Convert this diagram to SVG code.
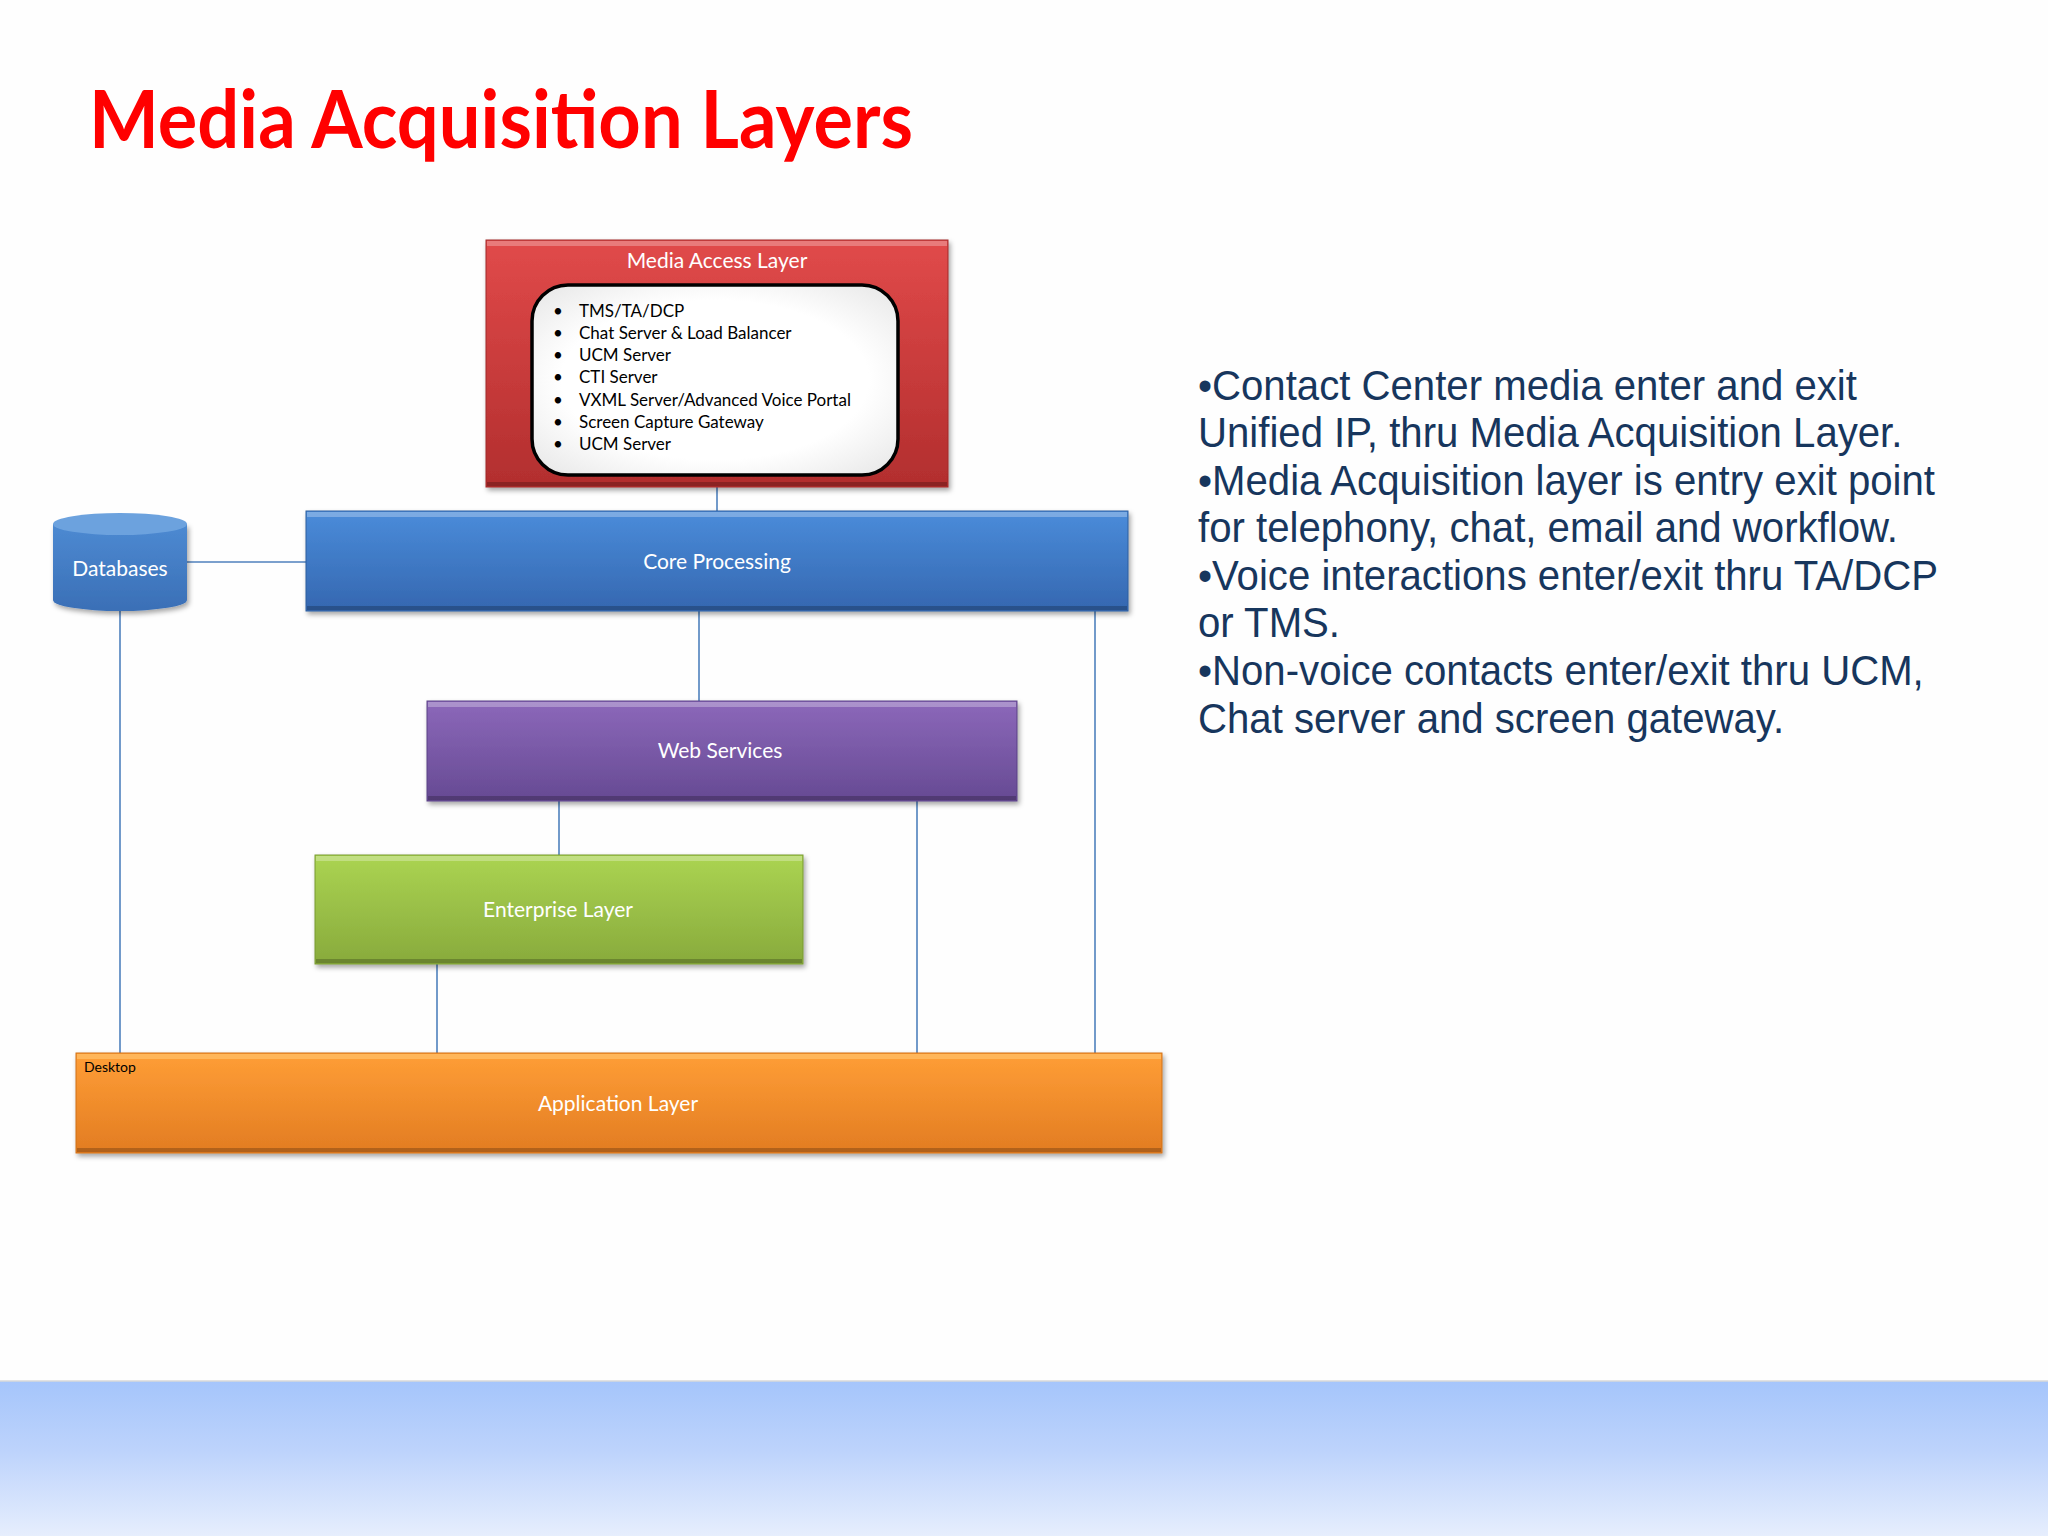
<svg xmlns="http://www.w3.org/2000/svg" width="2048" height="1536" viewBox="0 0 2048 1536">
<defs>
<style>
.lbl{font-family:Lato,"Open Sans","Liberation Sans",sans-serif;font-size:21px;fill:#FFFFFF;text-anchor:middle}
.item{font-family:Lato,"Open Sans","Liberation Sans",sans-serif;font-size:17px;fill:#000000}
.body{font-family:"Liberation Sans",Arial,sans-serif;font-size:42px;fill:#17365D}
.conn{stroke:#4F81BD;stroke-width:1.6;fill:none}
.hi{fill:#FFFFFF;opacity:0.28}
.sh{fill:#000000;opacity:0.22}
</style>
<linearGradient id="gRed" x1="0" y1="0" x2="0" y2="1"><stop offset="0" stop-color="#E14A4A"/><stop offset="1" stop-color="#B22E2E"/></linearGradient>
<linearGradient id="gBlue" x1="0" y1="0" x2="0" y2="1"><stop offset="0" stop-color="#4A8CDA"/><stop offset="1" stop-color="#3567B0"/></linearGradient>
<linearGradient id="gPurple" x1="0" y1="0" x2="0" y2="1"><stop offset="0" stop-color="#8C68BA"/><stop offset="1" stop-color="#664A93"/></linearGradient>
<linearGradient id="gGreen" x1="0" y1="0" x2="0" y2="1"><stop offset="0" stop-color="#ABD452"/><stop offset="1" stop-color="#88AA3C"/></linearGradient>
<linearGradient id="gOrange" x1="0" y1="0" x2="0" y2="1"><stop offset="0" stop-color="#FF9E36"/><stop offset="1" stop-color="#E27C22"/></linearGradient>
<linearGradient id="gDb" x1="0" y1="0" x2="0" y2="1"><stop offset="0" stop-color="#4D8AD2"/><stop offset="1" stop-color="#3A6FB6"/></linearGradient>
<linearGradient id="gBand" x1="0" y1="0" x2="0" y2="1"><stop offset="0" stop-color="#A5C5FB"/><stop offset="0.45" stop-color="#BDD3FC"/><stop offset="1" stop-color="#E6EEFD"/></linearGradient>
<radialGradient id="gInner" cx="0.5" cy="0.5" r="0.7"><stop offset="0.6" stop-color="#FFFFFF"/><stop offset="1" stop-color="#E6E6E6"/></radialGradient>
<filter id="shadow" x="-5%" y="-10%" width="110%" height="130%"><feDropShadow dx="2" dy="3" stdDeviation="2.5" flood-color="#000" flood-opacity="0.35"/></filter>
</defs>

<rect x="0" y="0" width="2048" height="1536" fill="#FEFEFE"/>
<rect x="0" y="1381" width="2048" height="155" fill="url(#gBand)"/>
<line x1="0" y1="1381" x2="2048" y2="1381" stroke="#D8D8D8" stroke-width="1.5"/>

<text x="89" y="148" font-family="Lato,'Liberation Sans',sans-serif" font-weight="bold" font-size="80" fill="#FF0000" textLength="824" lengthAdjust="spacingAndGlyphs">Media Acquisition Layers</text>

<g id="connectors">
<line class="conn" x1="187" y1="562" x2="306" y2="562"/>
<line class="conn" x1="120" y1="611" x2="120" y2="1053"/>
<line class="conn" x1="717" y1="487" x2="717" y2="511"/>
<line class="conn" x1="699" y1="611" x2="699" y2="701"/>
<line class="conn" x1="1095" y1="611" x2="1095" y2="1053"/>
<line class="conn" x1="559" y1="801" x2="559" y2="855"/>
<line class="conn" x1="917" y1="801" x2="917" y2="1053"/>
<line class="conn" x1="437" y1="964" x2="437" y2="1053"/>
</g>

<g id="media-access-layer">
<rect x="486" y="240" width="462" height="247" fill="url(#gRed)" stroke="#A02A2A" stroke-width="1" filter="url(#shadow)"/>
<rect class="hi" x="487" y="241" width="460" height="5"/>
<rect class="sh" x="487" y="482" width="460" height="4"/>
<text class="lbl" x="717" y="268" font-size="20">Media Access Layer</text>
<rect x="532" y="285" width="366" height="190" rx="36" ry="36" fill="url(#gInner)" stroke="#000" stroke-width="3.5"/>
<g class="item">
<text x="553" y="317">•</text><text x="579" y="317">TMS/TA/DCP</text>
<text x="553" y="339">•</text><text x="579" y="339">Chat Server &amp; Load Balancer</text>
<text x="553" y="361">•</text><text x="579" y="361">UCM Server</text>
<text x="553" y="383">•</text><text x="579" y="383">CTI Server</text>
<text x="553" y="406">•</text><text x="579" y="406">VXML Server/Advanced Voice Portal</text>
<text x="553" y="428">•</text><text x="579" y="428">Screen Capture Gateway</text>
<text x="553" y="450">•</text><text x="579" y="450">UCM Server</text>
</g>
</g>

<g id="databases">
<path d="M53,524 L53,600 A67,11 0 0 0 187,600 L187,524 Z" fill="url(#gDb)" filter="url(#shadow)"/>
<ellipse cx="120" cy="524" rx="67" ry="11" fill="#6CA2DE"/>
<text class="lbl" x="120" y="576">Databases</text>
</g>

<g id="core-processing">
<rect x="306" y="511" width="822" height="100" fill="url(#gBlue)" stroke="#2F5F9E" stroke-width="1" filter="url(#shadow)"/>
<rect class="hi" x="307" y="512" width="820" height="5"/>
<rect class="sh" x="307" y="606" width="820" height="4"/>
<text class="lbl" x="717" y="569">Core Processing</text>
</g>

<g id="web-services">
<rect x="427" y="701" width="590" height="100" fill="url(#gPurple)" stroke="#5A4085" stroke-width="1" filter="url(#shadow)"/>
<rect class="hi" x="428" y="702" width="588" height="5"/>
<rect class="sh" x="428" y="796" width="588" height="4"/>
<text class="lbl" x="720" y="758">Web Services</text>
</g>

<g id="enterprise-layer">
<rect x="315" y="855" width="488" height="109" fill="url(#gGreen)" stroke="#789A30" stroke-width="1" filter="url(#shadow)"/>
<rect class="hi" x="316" y="856" width="486" height="5"/>
<rect class="sh" x="316" y="959" width="486" height="4"/>
<text class="lbl" x="558" y="917">Enterprise Layer</text>
</g>

<g id="application-layer">
<rect x="76" y="1053" width="1086" height="100" fill="url(#gOrange)" stroke="#D07018" stroke-width="1" filter="url(#shadow)"/>
<rect x="77" y="1054" width="1084" height="5" fill="#FFD080" opacity="0.5"/>
<rect class="sh" x="77" y="1148" width="1084" height="4"/>
<text x="84" y="1072" font-family="Lato,'Liberation Sans',sans-serif" font-size="14" fill="#000">Desktop</text>
<text class="lbl" x="618" y="1111">Application Layer</text>
</g>

<g id="notes" transform="translate(1198,0) scale(0.956,1)">
<text class="body" x="0" y="400">•Contact Center media enter and exit</text>
<text class="body" x="0" y="447">Unified IP, thru Media Acquisition Layer.</text>
<text class="body" x="0" y="495">•Media Acquisition layer is entry exit point</text>
<text class="body" x="0" y="542">for telephony, chat, email and workflow.</text>
<text class="body" x="0" y="590">•Voice interactions enter/exit thru TA/DCP</text>
<text class="body" x="0" y="637">or TMS.</text>
<text class="body" x="0" y="685">•Non-voice contacts enter/exit thru UCM,</text>
<text class="body" x="0" y="733">Chat server and screen gateway.</text>
</g>
</svg>
